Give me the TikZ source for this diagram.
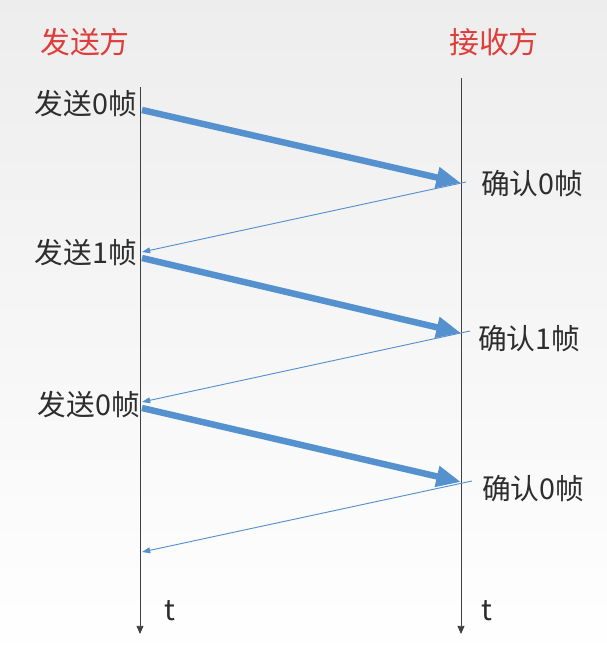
\documentclass[tikz,border=0pt]{standalone}
\usepackage{fontspec}
\setmainfont{Noto Sans CJK SC}
\usetikzlibrary{arrows.meta,positioning}
\definecolor{frameblue}{RGB}{84,145,206}
\definecolor{headred}{RGB}{222,62,58}
\definecolor{txtgray}{RGB}{45,45,45}
\tikzset{
  msgtext/.style={text=txtgray,font=\fontsize{24.5}{28}\selectfont,inner sep=0pt},
  sidetext/.style={text=headred,font=\fontsize{25.5}{28}\selectfont,inner sep=0pt},
  timeaxis/.style={line width=0.8pt,black!75,-{Triangle[length=7pt,width=6pt]}},
  dataframe/.style={frameblue,line width=5.5pt,-{Triangle[length=21pt,width=17pt]}},
  ackframe/.style={frameblue,line width=0.8pt,-{Triangle[length=7pt,width=5pt]}}
}
\begin{document}
\begin{tikzpicture}[x=0.03cm,y=-0.03cm]
        \fill[top color=black!7,bottom color=white] (0,0) rectangle (607,661);
        \useasboundingbox (0,0) rectangle (607,661);
        % the two time axes
        \coordinate (stop) at (140,87);
        \coordinate (sbot) at (140,634);
        \coordinate (rtop) at (461,78);
        \coordinate (rbot) at (461,634);
        \draw[timeaxis] (stop)--(sbot);
        \draw[timeaxis] (rtop)--(rbot);
        \node[sidetext] (sender) at (85,42) {发送方};
        \node[sidetext] (receiver) at (494,42) {接收方};
        \node[msgtext] (t1) at (170,611) {t};
        \node[msgtext] (t2) at (487,611) {t};
        % labels
        \node[msgtext,anchor=east] (send0) at (137,104) {发送0帧};
        \node[msgtext,anchor=east] (send1) at (137,253) {发送1帧};
        \node[msgtext,anchor=east] (send2) at (140,405) {发送0帧};
        \node[msgtext,anchor=west] (ack0) at (481,184) {确认0帧};
        \node[msgtext,anchor=west] (ack1) at (478,339) {确认1帧};
        \node[msgtext,anchor=west] (ack2) at (482,489) {确认0帧};
        % frame ends
        \coordinate (a0) at (142,110);
        \coordinate (b0) at (461,183);
        \coordinate (c0) at (466,182);
        \coordinate (a1) at (142,252);
        \coordinate (a1x) at (142,258);
        \coordinate (b1) at (461,333);
        \coordinate (c1) at (470,331);
        \coordinate (a2) at (142,402);
        \coordinate (a2x) at (142,408);
        \coordinate (b2) at (461,482);
        \coordinate (c2) at (472,481);
        \coordinate (a3) at (142,552);
        \draw[dataframe] (a0)--(b0);
        \draw[ackframe] (c0)--(a1);
        \draw[dataframe] (a1x)--(b1);
        \draw[ackframe] (c1)--(a2);
        \draw[dataframe] (a2x)--(b2);
        \draw[ackframe] (c2)--(a3);
      \end{tikzpicture}
\end{document}
